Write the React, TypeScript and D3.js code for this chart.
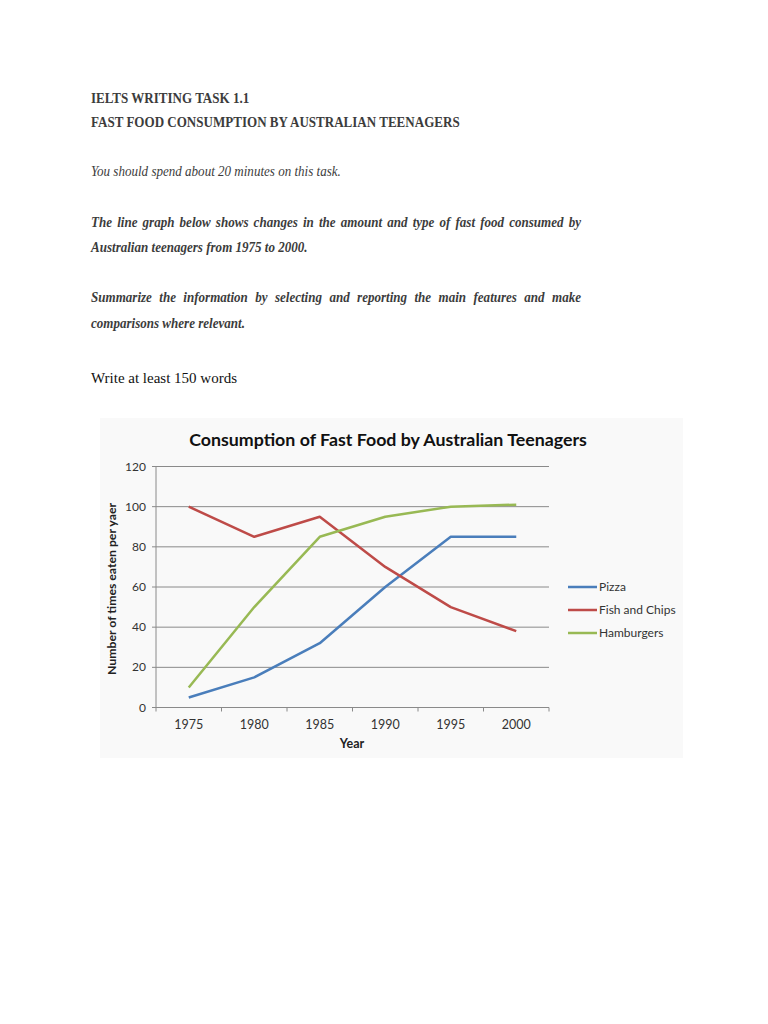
import React, { useEffect, useRef } from "react";
import * as d3 from "d3";

const years = ["1975", "1980", "1985", "1990", "1995", "2000"];
const pizza = [5, 15, 32, 60, 85, 85];
const fishAndChips = [100, 85, 95, 70, 50, 38];
const hamburgers = [10, 50, 85, 95, 100, 101];
const seriesNames = ["Pizza", "Fish and Chips", "Hamburgers"];
const seriesColors = ["#4a7ebb", "#be4b48", "#98b954"];
const yTicks = [0, 20, 40, 60, 80, 100, 120];

const chartTitle = "Consumption of Fast Food by Australian Teenagers";
const yTitle = "Number of times eaten per yaer";
const xTitle = "Year";

export default function App() {
  const ref = useRef<SVGSVGElement>(null);

  useEffect(() => {
    const svg = d3.select(ref.current!);
    svg.selectAll("*").remove();

    const serif = "'Liberation Serif', 'Times New Roman', serif";
    const sans = "Lato, 'Open Sans', sans-serif";
    const left = 91;
    const right = 581;
    const sx = 0.87;

    const cond = (yy: number, txt: string, weight: string, style: string) =>
      svg.append("text").attr("transform", `translate(${left},${yy}) scale(${sx},1)`)
        .attr("font-family", serif).attr("font-size", 15)
        .attr("font-weight", weight).attr("font-style", style)
        .attr("fill", "#3c3c3c").text(txt);

    // Header text
    cond(103, "IELTS WRITING TASK 1.1", "bold", "normal");
    cond(127, "FAST FOOD CONSUMPTION BY AUSTRALIAN TEENAGERS", "bold", "normal");
    cond(176, "You should spend about 20 minutes on this task.", "normal", "italic");

    const para = [
      { t: "The line graph below shows changes in the amount and type of fast food consumed by", y: 227, j: true },
      { t: "Australian teenagers from 1975 to 2000.", y: 252, j: false },
      { t: "Summarize the information by selecting and reporting the main features and make", y: 302, j: true },
      { t: "comparisons where relevant.", y: 328, j: false },
    ];
    para.forEach((p) => {
      const t = cond(p.y, p.t, "bold", "italic");
      if (p.j) {
        const w = (t.node() as SVGTextElement).getComputedTextLength();
        const spaces = p.t.split(" ").length - 1;
        t.attr("word-spacing", ((right - left) / sx - w) / spaces);
      }
    });

    svg.append("text").attr("x", left).attr("y", 383).attr("font-family", serif)
      .attr("font-size", 15).attr("fill", "#111").text("Write at least 150 words");

    // Chart background
    svg.append("rect").attr("x", 100).attr("y", 418).attr("width", 583).attr("height", 340)
      .attr("fill", "#f9f9f9");

    const x = d3.scaleBand().domain(years).range([156, 549]);
    const y = d3.scaleLinear().domain([0, 120]).range([707.5, 466.5]);
    const cx = (d: string) => (x(d) as number) + x.bandwidth() / 2;

    svg.append("text").attr("x", 388).attr("y", 446).attr("text-anchor", "middle")
      .attr("font-family", sans).attr("font-size", 17.8).attr("font-weight", "bold")
      .attr("fill", "#111").text(chartTitle);

    // gridlines
    const g = svg.append("g");
    yTicks.forEach((v) => {
      if (v > 0) {
        g.append("line").attr("x1", 156).attr("x2", 549).attr("y1", y(v)).attr("y2", y(v))
          .attr("stroke", "#8a8a8a").attr("stroke-width", 1);
      }
      g.append("line").attr("x1", 152).attr("x2", 156).attr("y1", y(v)).attr("y2", y(v))
        .attr("stroke", "#8a8a8a");
      g.append("text").attr("x", 146).attr("y", y(v) + 4).attr("text-anchor", "end")
        .attr("font-family", sans).attr("font-size", 12).attr("fill", "#333").text(String(v));
    });
    // axes
    g.append("line").attr("x1", 156).attr("x2", 156).attr("y1", y(120)).attr("y2", y(0))
      .attr("stroke", "#8a8a8a");
    g.append("line").attr("x1", 156).attr("x2", 549).attr("y1", y(0)).attr("y2", y(0))
      .attr("stroke", "#8a8a8a");
    const bounds = [...years.map((d) => x(d) as number), 549];
    bounds.forEach((b) => {
      g.append("line").attr("x1", b).attr("x2", b).attr("y1", y(0)).attr("y2", y(0) + 4)
        .attr("stroke", "#8a8a8a");
    });
    years.forEach((d) => {
      g.append("text").attr("x", cx(d)).attr("y", 729).attr("text-anchor", "middle")
        .attr("font-family", sans).attr("font-size", 12.5).attr("fill", "#333").text(d);
    });
    g.append("text").attr("x", 352).attr("y", 748).attr("text-anchor", "middle")
      .attr("font-family", sans).attr("font-size", 12.5).attr("font-weight", "bold")
      .attr("fill", "#222").text(xTitle);
    g.append("text").attr("transform", "translate(116,589) rotate(-90)").attr("text-anchor", "middle")
      .attr("font-family", sans).attr("font-size", 11.5).attr("font-weight", "bold")
      .attr("textLength", 172).attr("lengthAdjust", "spacingAndGlyphs")
      .attr("fill", "#222").text(yTitle);

    // lines
    const data = [pizza, fishAndChips, hamburgers];
    const line = d3.line<number>().x((_, i) => cx(years[i])).y((v) => y(v));
    data.forEach((s, i) => {
      svg.append("path").attr("d", line(s)!).attr("fill", "none")
        .attr("stroke", seriesColors[i]).attr("stroke-width", 2.5)
        .attr("stroke-linejoin", "round");
    });

    // legend
    seriesNames.forEach((n, i) => {
      const ly = 587 + i * 23;
      svg.append("line").attr("x1", 568).attr("x2", 597).attr("y1", ly).attr("y2", ly)
        .attr("stroke", seriesColors[i]).attr("stroke-width", 2.5);
      svg.append("text").attr("x", 599).attr("y", ly + 4).attr("font-family", sans)
        .attr("font-size", 12).attr("fill", "#333").text(n);
    });
  }, []);

  return (
    <svg ref={ref} width={768} height={1024}
      style={{ position: "absolute", left: 0, top: 0, background: "#fff" }} />
  );
}
